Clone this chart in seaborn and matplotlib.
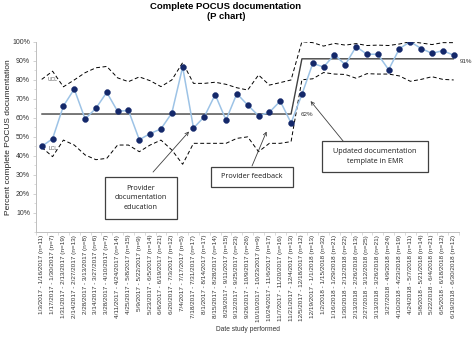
import matplotlib
matplotlib.use("Agg")
import matplotlib.pyplot as plt
import matplotlib.patches as mpatches
from matplotlib.ticker import MultipleLocator, FixedLocator
import numpy as np
import pandas as pd
import seaborn as sns

# --- Daten ------------------------------------------------------------------
PERIODS = [
    "1/3/2017 - 1/16/2017 (n=11)", "1/17/2017 - 1/30/2017 (n=7)",
    "1/31/2017 - 2/13/2017 (n=19)", "2/14/2017 - 2/27/2017 (n=13)",
    "2/28/2017 - 3/13/2017 (n=8)", "3/14/2017 - 3/27/2017 (n=6)",
    "3/28/2017 - 4/10/2017 (n=7)", "4/11/2017 - 4/24/2017 (n=14)",
    "4/25/2017 - 5/8/2017 (n=15)", "5/9/2017 - 5/22/2017 (n=9)",
    "5/23/2017 - 6/5/2017 (n=14)", "6/6/2017 - 6/19/2017 (n=21)",
    "6/20/2017 - 7/3/2017 (n=12)", "7/4/2017 - 7/17/2017 (n=5)",
    "7/18/2017 - 7/31/2017 (n=17)", "8/1/2017 - 8/14/2017 (n=17)",
    "8/15/2017 - 8/28/2017 (n=14)", "8/29/2017 - 9/11/2017 (n=15)",
    "9/12/2017 - 9/25/2017 (n=23)", "9/26/2017 - 10/9/2017 (n=26)",
    "10/10/2017 - 10/23/2017 (n=9)", "10/24/2017 - 11/6/2017 (n=17)",
    "11/7/2017 - 11/20/2017 (n=16)", "11/21/2017 - 12/4/2017 (n=13)",
    "12/5/2017 - 12/18/2017 (n=12)", "12/19/2017 - 1/1/2018 (n=13)",
    "1/2/2018 - 1/15/2018 (n=32)", "1/16/2018 - 1/29/2018 (n=21)",
    "1/30/2018 - 2/12/2018 (n=22)", "2/13/2018 - 2/26/2018 (n=13)",
    "2/27/2018 - 3/12/2018 (n=25)", "3/13/2018 - 3/26/2018 (n=21)",
    "3/27/2018 - 4/9/2018 (n=24)", "4/10/2018 - 4/23/2018 (n=19)",
    "4/24/2018 - 5/7/2018 (n=11)", "5/8/2018 - 5/21/2018 (n=14)",
    "5/22/2018 - 6/4/2018 (n=21)", "6/5/2018 - 6/18/2018 (n=12)",
    "6/19/2018 - 6/30/2018 (n=12)",
]

PERCENT = [
    45.0, 49.0, 66.2, 75.1, 59.4, 65.0, 73.4, 63.4, 63.9, 48.5,
    51.7, 54.2, 62.5, 86.7, 54.6, 60.6, 72.2, 58.8, 72.7, 66.7,
    61.1, 62.9, 68.8, 57.3, 72.3, 88.6, 86.7, 93.2, 87.9, 97.4,
    93.4, 93.4, 85.3, 96.4, 100.0, 96.4, 93.9, 95.3, 92.9,
]

UCL = [
    80.2, 84.5, 76.3, 79.9, 83.7, 86.3, 87.0, 81.0, 79.0, 81.5,
    79.5, 76.4, 79.9, 89.0, 78.1, 78.1, 78.7, 77.6, 75.8, 74.6,
    82.5, 77.2, 78.5, 79.9, 100.0, 99.5, 97.7, 99.1, 98.2, 99.0,
    98.0, 98.2, 98.0, 98.8, 100.0, 99.3, 98.5, 99.5, 99.5,
]

LCL = [
    44.5, 39.6, 48.3, 45.7, 40.5, 38.0, 38.7, 45.7, 45.7, 42.2,
    45.7, 48.3, 43.1, 35.6, 46.6, 46.6, 46.6, 46.6, 49.2, 50.0,
    42.2, 46.6, 46.6, 47.5, 80.0, 80.5, 83.8, 83.0, 82.8, 80.8,
    83.2, 83.0, 83.0, 82.0, 79.2, 80.2, 81.6, 80.2, 79.9,
]

# Mittellinie je Phase (vor / nach dem neuen EMR-Template)
PHASE_CENTER = [62.0, 91.0]
PHASE_LENGTH = [24, 15]
CENTER = [c for c, n in zip(PHASE_CENTER, PHASE_LENGTH) for _ in range(n)]

df = pd.DataFrame({
    "idx": np.arange(len(PERIODS)),
    "pct": PERCENT, "ucl": UCL, "lcl": LCL, "center": CENTER,
})

# --- Layout -------------------------------------------------------------------
sns.set_theme(style="white")
plt.rcParams["font.family"] = ["Liberation Sans", "DejaVu Sans"]

W, H = 474, 342
fig = plt.figure(figsize=(W / 100, H / 100), dpi=100)
ax = fig.add_axes([36.3 / W, (H - 232) / H, 422.8 / W, 190.3 / H])

LINE_BLUE = "#9DC3E6"
DOT_NAVY = "#14286A"
GREY = "#404040"

# Kontrollgrenzen (gestrichelt)
for col in ["ucl", "lcl"]:
    sns.lineplot(data=df, x="idx", y=col, ax=ax, color="black", lw=0.7,
                 zorder=2)
    ax.lines[-1].set_dashes((4, 2.6))
sns.lineplot(data=df, x="idx", y="center", ax=ax, color=GREY, lw=1.0, zorder=2)
sns.lineplot(data=df, x="idx", y="pct", ax=ax, color=LINE_BLUE, lw=1.1, zorder=3)
sns.scatterplot(data=df, x="idx", y="pct", ax=ax, color=DOT_NAVY, s=18,
                edgecolor=DOT_NAVY, linewidth=0.3, zorder=4)

ax.set_xlim(-0.5, len(PERIODS) - 0.5)
ax.set_ylim(0, 100)

# Achsen
for side in ["top", "right"]:
    ax.spines[side].set_visible(False)
for side in ["left", "bottom"]:
    ax.spines[side].set_color("#BFBFBF")
    ax.spines[side].set_linewidth(0.7)

ax.yaxis.set_major_locator(FixedLocator(np.arange(10, 101, 10)))
ax.yaxis.set_minor_locator(MultipleLocator(5))
ax.set_yticklabels([f"{v}%" for v in range(10, 101, 10)])
ax.tick_params(axis="y", which="major", labelsize=5, length=2.5, width=0.5,
               color="#BFBFBF", labelcolor="#333333", pad=2, direction="out",
               left=True)
ax.tick_params(axis="y", which="minor", length=1.5, width=0.4, color="#BFBFBF",
               left=True)

ax.set_xticks(df["idx"])
ax.set_xticklabels(PERIODS, rotation=90)
ax.xaxis.set_minor_locator(FixedLocator(np.arange(-0.5, len(PERIODS), 1.0)))
ax.tick_params(axis="x", which="major", labelsize=4.6, length=0,
               labelcolor="#333333", pad=2)
ax.tick_params(axis="x", which="minor", length=2, width=0.4, color="#BFBFBF",
               bottom=True)

ax.set_xlabel("Date study performed", fontsize=4.8, color="#333333", labelpad=3)
ax.set_ylabel("Percent complete POCUS documentation", fontsize=6,
              color="#222222")
ax.yaxis.set_label_coords(-0.058, 0.5)

fig.text(226 / W, 1 - 2 / H, "Complete POCUS documentation\n(P chart)",
         ha="center", va="top", fontsize=6.8, fontweight="bold",
         linespacing=1.15, color="black")

# Beschriftungen der Grenzen / Mittellinien
ax.text(1.05, 80.0, "UCL", fontsize=3.6, color="#555555", ha="center",
        va="center")
ax.text(1.05, 44.0, "LCL", fontsize=3.6, color="#555555", ha="center",
        va="center")
ax.text(24.45, 61.5, "62%", fontsize=4.5, color="#333333", ha="center",
        va="center")
ax.text(38.6, 89.5, "91%", fontsize=4.5, color="#333333", ha="left",
        va="center", clip_on=False)

# --- Interventionen (Kästen mit Pfeilen) ------------------------------------
boxes = [
    ((5.84, 6.8), 12.49 - 5.84, 28.9 - 6.8, (9.16, 17.9),
     "Provider\ndocumentation\neducation"),
    ((15.59, 23.8), 23.15 - 15.59, 34.0 - 23.8, (19.37, 29.0),
     "Provider feedback"),
    ((25.83, 31.4), 35.61 - 25.83, 47.8 - 31.4, (30.72, 39.7),
     "Updated documentation\ntemplate in EMR"),
]
for (x0, y0), bw, bh, (tx, ty), label in boxes:
    ax.add_patch(mpatches.Rectangle((x0, y0), bw, bh, facecolor="white",
                                    edgecolor=GREY, lw=0.9, zorder=5))
    ax.text(tx, ty, label, ha="center", va="center", fontsize=5.2,
            family=["Open Sans", "DejaVu Sans"], linespacing=1.45,
            color="#1a1a1a", zorder=6)

arrows = [
    ((10.27, 31.5), (13.59, 52.8)),
    ((19.40, 34.7), (20.74, 52.8)),
    ((27.80, 47.8), (24.80, 68.8)),
]
for start, tip in arrows:
    ax.annotate("", xy=tip, xytext=start,
                arrowprops=dict(arrowstyle="->", color=GREY, lw=0.6,
                                mutation_scale=6, shrinkA=0, shrinkB=0),
                zorder=5)

fig.savefig("out.png", dpi=100)
